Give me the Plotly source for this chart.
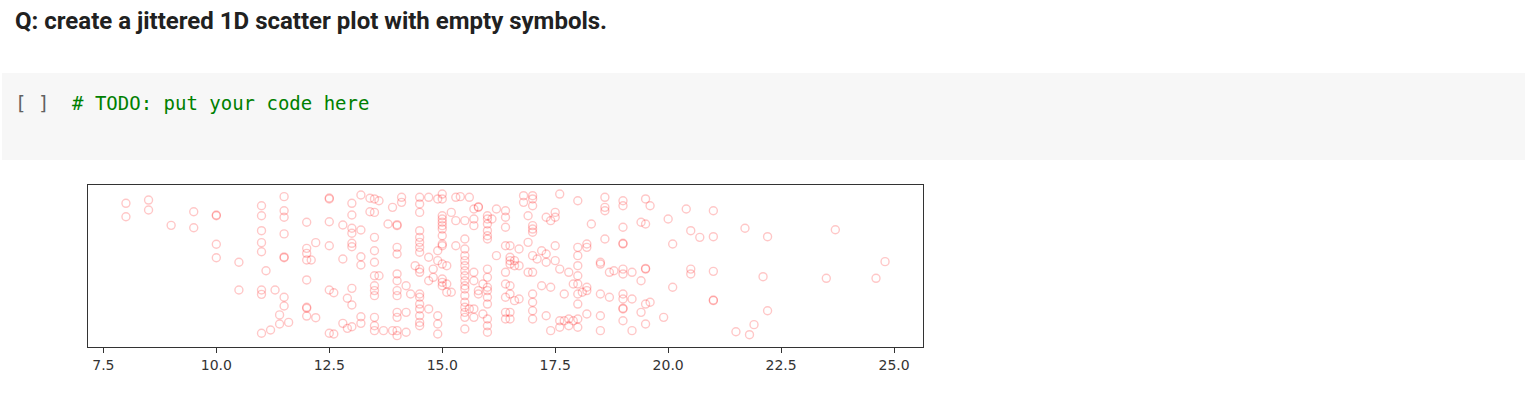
import plotly.graph_objects as go

# ---- data (acceleration value -> jitter values in [0,1]) ----
acc_8_10 = [8.0, 8.0, 8.5, 8.5, 9.0, 9.5, 9.5, 10.0, 10.0, 10.0, 10.0, 10.5, 10.5]
jit_8_10 = [0.887, 0.804, 0.907, 0.846, 0.751, 0.835, 0.736, 0.810, 0.815, 0.634, 0.551, 0.523, 0.352]

acc_11_12 = [11.0]*8 + [11.1, 11.2, 11.3, 11.4, 11.4] + [11.5]*8 + [11.6] + [12.0]*8 + [12.1, 12.2, 12.2]
jit_11_12 = [0.872, 0.810, 0.718, 0.644, 0.588, 0.352, 0.325, 0.085,
             0.471, 0.105, 0.352, 0.198, 0.142,
             0.928, 0.841, 0.801, 0.698, 0.551, 0.556, 0.307, 0.253,
             0.152,
             0.770, 0.609, 0.578, 0.537, 0.414, 0.239, 0.245, 0.191,
             0.537, 0.644, 0.181]

acc_12_13 = [12.5]*6 + [12.6, 12.6, 12.8, 12.8, 12.8, 12.9, 12.9] + [13.0]*9 + [13.2]*6 + [13.4, 13.4]
jit_12_13 = [0.914, 0.920, 0.773, 0.625, 0.352, 0.085,
             0.335, 0.080, 0.753, 0.543, 0.146, 0.301, 0.115,
             0.887, 0.815, 0.733, 0.702, 0.640, 0.619, 0.362, 0.259, 0.125,
             0.938, 0.722, 0.557, 0.506, 0.187, 0.146,
             0.918, 0.835]

acc_13_14 = [13.5]*12 + [13.6, 13.6, 13.7, 13.8, 13.9, 13.9] + [14.0]*12 + [14.1, 14.1, 14.2, 14.2, 14.2, 14.3, 14.4]
jit_13_14 = [0.914, 0.831, 0.677, 0.594, 0.523, 0.440, 0.378, 0.348, 0.317, 0.183, 0.131, 0.101,
             0.903, 0.440, 0.101, 0.759, 0.862, 0.101,
             0.749, 0.755, 0.615, 0.574, 0.451, 0.409, 0.348, 0.317, 0.214, 0.183, 0.101, 0.070,
             0.893, 0.924, 0.378, 0.214, 0.091, 0.327, 0.502]

acc_14_15 = [14.5]*17 + [14.7]*4 + [14.8]*2 + [14.9]*6
jit_14_15 = [0.924, 0.883, 0.831, 0.718, 0.677, 0.646, 0.615, 0.585, 0.481, 0.461, 0.327, 0.307,
             0.265, 0.235, 0.193, 0.152, 0.131,
             0.924, 0.554, 0.409, 0.235,
             0.481, 0.430,
             0.914, 0.594, 0.533, 0.193, 0.142, 0.080]

acc_15 = [15.0]*14 + [15.1]*3 + [15.2]*2 + [15.3]*3 + [15.4]
jit_15 = [0.944, 0.914, 0.810, 0.790, 0.770, 0.749, 0.728, 0.687, 0.636, 0.625, 0.512, 0.420, 0.399, 0.378,
          0.502, 0.389, 0.338,
          0.831, 0.338,
          0.924, 0.780, 0.625,
          0.928]

acc_15b = [15.5]*17 + [15.6]*2 + [15.7]*7 + [15.8]*4 + [15.9]*2
jit_15b = [0.780, 0.667, 0.605, 0.564, 0.533, 0.502, 0.471, 0.440, 0.409, 0.378, 0.358, 0.317,
           0.276, 0.245, 0.214, 0.183, 0.111,
           0.924, 0.235,
           0.852, 0.790, 0.749, 0.461, 0.409, 0.235, 0.183,
           0.862, 0.866, 0.348, 0.327,
           0.389, 0.204]

acc_16 = [16.0]*15 + [16.1, 16.2, 16.2] + [16.4]*9 + [16.5]*8
jit_16 = [0.810, 0.790, 0.759, 0.718, 0.687, 0.667, 0.481, 0.430, 0.369, 0.348, 0.307, 0.265, 0.173, 0.131, 0.091,
          0.790, 0.852, 0.564,
          0.841, 0.801, 0.739, 0.625, 0.461, 0.389, 0.307, 0.214, 0.173,
          0.625, 0.554, 0.533, 0.512, 0.378, 0.327, 0.214, 0.173]

acc_16b = [16.6]*3 + [16.7]*3 + [16.8]*2 + [16.9]*3 + [17.0]*12
jit_16b = [0.533, 0.502, 0.286,
           0.605, 0.502, 0.296,
           0.934, 0.893,
           0.810, 0.646, 0.461,
           0.934, 0.914, 0.872, 0.749, 0.728, 0.708, 0.564, 0.461, 0.327, 0.276, 0.224, 0.173]

acc_17 = [17.1, 17.2, 17.2] + [17.3]*4 + [17.4]*3 + [17.5]*4 + [17.6]*4 + [17.7]*2 + [17.8]*3 + [17.9]*2
jit_17 = [0.543, 0.594, 0.378,
          0.801, 0.574, 0.523, 0.193,
          0.780, 0.369, 0.101,
          0.801, 0.831, 0.625, 0.533,
          0.944, 0.481, 0.162, 0.122,
          0.327, 0.162,
          0.461, 0.173, 0.131,
          0.389, 0.162]

acc_18 = [18.0]*10 + [18.1] + [18.2]*5 + [18.3] + [18.5]*5 + [18.6]*4 + [18.7]*2 + [18.8]
jit_18 = [0.903, 0.615, 0.564, 0.502, 0.440, 0.389, 0.327, 0.265, 0.173, 0.122,
          0.338,
          0.636, 0.615, 0.369, 0.348, 0.204,
          0.759,
          0.523, 0.512, 0.327, 0.193, 0.101,
          0.924, 0.862, 0.841, 0.667,
          0.461, 0.307,
          0.471]

acc_19 = [19.0]*12 + [19.2]*3 + [19.4]*3 + [19.5]*6 + [19.6]*2 + [19.9]
jit_19 = [0.903, 0.872, 0.739, 0.636, 0.640, 0.481, 0.451, 0.327, 0.296, 0.235, 0.239, 0.162,
          0.461, 0.296, 0.101,
          0.770, 0.409, 0.214,
          0.914, 0.759, 0.481, 0.485, 0.265, 0.142,
          0.872, 0.276,
          0.183]

acc_20 = [20.0, 20.1, 20.1, 20.4, 20.5, 20.5, 20.5, 20.7] + [21.0]*5 + [21.5, 21.7, 21.8, 21.9, 22.1, 22.2, 22.2, 23.5, 23.7, 24.6, 24.8]
jit_20 = [0.790, 0.636, 0.369, 0.852, 0.718, 0.481, 0.451, 0.677,
          0.841, 0.681, 0.467, 0.286, 0.290,
          0.094, 0.733, 0.076, 0.138, 0.434, 0.681, 0.224, 0.424, 0.724, 0.424, 0.527]

acceleration = (acc_8_10 + acc_11_12 + acc_12_13 + acc_13_14 + acc_14_15 + acc_15 + acc_15b
                + acc_16 + acc_16b + acc_17 + acc_18 + acc_19 + acc_20)
jitter = (jit_8_10 + jit_11_12 + jit_12_13 + jit_13_14 + jit_14_15 + jit_15 + jit_15b
          + jit_16 + jit_16b + jit_17 + jit_18 + jit_19 + jit_20)

tick_values = [7.5, 10.0, 12.5, 15.0, 17.5, 20.0, 22.5, 25.0]
tick_labels = ["7.5", "10.0", "12.5", "15.0", "17.5", "20.0", "22.5", "25.0"]

title_text = "Q: create a jittered 1D scatter plot with empty symbols."
cell_prompt = "[ ]"
cell_code = "# TODO: put your code here"

fig = go.Figure()
fig.add_trace(go.Scatter(
    x=acceleration, y=jitter, mode="markers",
    marker=dict(symbol="circle-open", size=8, color="rgba(255,0,0,0.22)",
                line=dict(width=1.4, color="rgba(255,0,0,0.22)")),
    hoverinfo="skip", showlegend=False,
))

# plot area: x 88..923 px, y 185..347 px
L, R, T, B = 88, 923, 185, 347
W, H = R - L, B - T
def px(x): return (x - L) / W
def py(y): return (B - y) / H

fig.add_shape(type="rect", xref="paper", yref="paper",
              x0=px(2), x1=px(1525), y0=py(160), y1=py(73),
              fillcolor="#f7f7f7", line=dict(width=0), layer="below")

fig.add_annotation(xref="paper", yref="paper", x=px(13), y=py(21),
                   xanchor="left", yanchor="middle", showarrow=False,
                   text="<b>" + title_text + "</b>",
                   font=dict(family="Roboto", size=24, color="#212121"))
fig.add_annotation(xref="paper", yref="paper", x=px(13), y=py(103),
                   xanchor="left", yanchor="middle", showarrow=False,
                   text=cell_prompt,
                   font=dict(family="DejaVu Sans Mono", size=19, color="#616161"))
fig.add_annotation(xref="paper", yref="paper", x=px(70), y=py(103),
                   xanchor="left", yanchor="middle", showarrow=False,
                   text=cell_code,
                   font=dict(family="DejaVu Sans Mono", size=19, color="#008000"))

fig.update_layout(
    width=1525, height=405, autosize=False,
    margin=dict(l=L, r=1525 - R, t=T, b=405 - B, pad=0),
    paper_bgcolor="white", plot_bgcolor="white",
    xaxis=dict(range=[7.16, 25.64], tickvals=tick_values, ticktext=tick_labels,
               ticks="outside", ticklen=5, tickwidth=1, tickcolor="#333",
               showline=True, mirror=True, linecolor="#333", linewidth=1.2,
               showgrid=False, zeroline=False,
               tickfont=dict(family="DejaVu Sans", size=14, color="#333")),
    yaxis=dict(range=[0, 1], showticklabels=False, ticks="",
               showline=True, mirror=True, linecolor="#333", linewidth=1.2,
               showgrid=False, zeroline=False),
)

fig.write_html("out.html", config={"displayModeBar": False},
               post_script="document.body.style.margin='0';document.body.style.overflow='hidden';")
